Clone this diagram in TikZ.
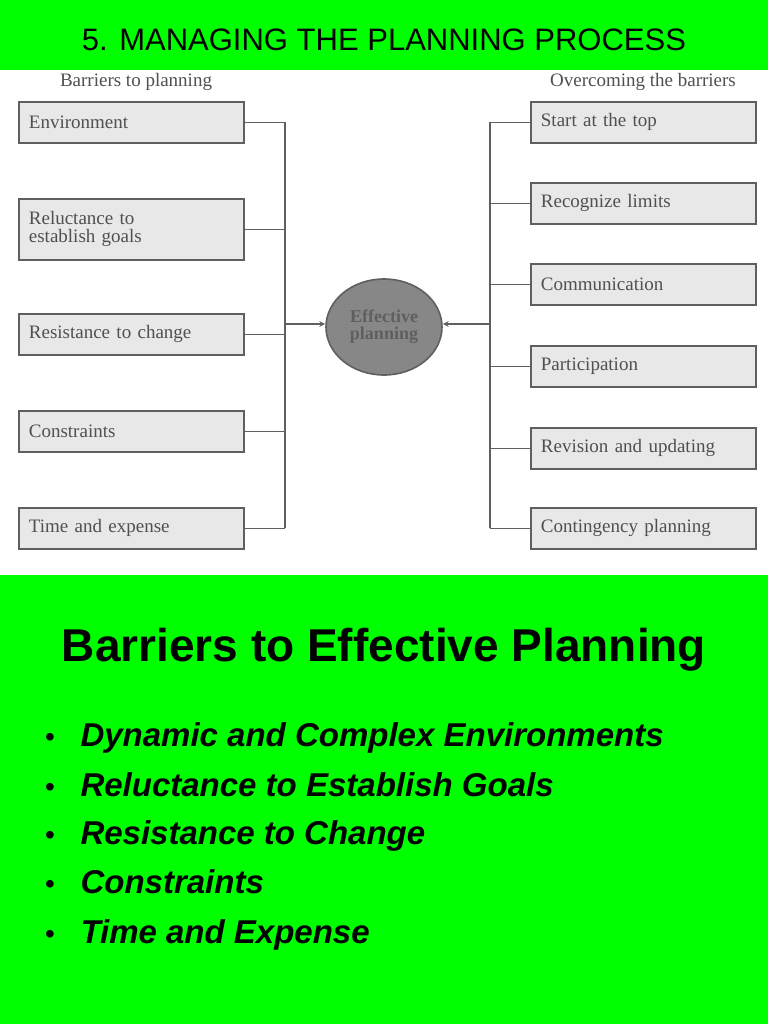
\documentclass[tikz,border=0pt]{standalone}
\usepackage{fontspec}
\usetikzlibrary{shapes.geometric}
\setmainfont{Liberation Serif}
\newfontfamily\arial{Liberation Sans}
\definecolor{grn}{RGB}{0,255,0}
\definecolor{bxfill}{RGB}{232,232,232}
\definecolor{bxline}{RGB}{95,95,95}
\definecolor{txt}{RGB}{80,80,80}
\definecolor{ellfill}{RGB}{135,135,135}
\definecolor{elltxt}{RGB}{95,95,95}
\begin{document}
\begin{tikzpicture}[x=1pt,y=-1pt,
  bx/.style={draw=bxline,line width=1.8pt,fill=bxfill,minimum width=225pt,anchor=north west,align=left,text width=205pt,inner xsep=10pt,font=\fontsize{19}{18}\selectfont,text=txt},
  ln/.style={draw=bxline,line width=1.6pt},
  hd/.style={font=\fontsize{19}{19}\selectfont,text=txt},
  bul/.style={anchor=base west,font=\arial\bfseries\itshape\fontsize{33}{33}\selectfont}]
\useasboundingbox (0,0) rectangle (768,1024);
\fill[grn] (0,0) rectangle (768,70);
\fill[white] (0,70) rectangle (768,575);
\fill[grn] (0,575) rectangle (768,1024);
\node[font=\arial\fontsize{31}{31}\selectfont] (title) at (384,40) {5. MANAGING THE PLANNING PROCESS};
\node[hd] (hl) at (136,82) {Barriers to planning};
\node[hd] (hr) at (643,82) {Overcoming the barriers};
% left boxes
\node[bx,minimum height=41pt] (l1) at (18,101) {Environment};
\node[bx,minimum height=61pt] (l2) at (18,198) {Reluctance to\\establish goals};
\node[bx,minimum height=41pt] (l3) at (18,313) {Resistance to change};
\node[bx,minimum height=41pt] (l4) at (18,410) {Constraints};
\node[bx,minimum height=41pt] (l5) at (18,507) {Time and expense};
% right boxes
\node[bx,minimum height=41pt] (r1) at (530,101) {Start at the top};
\node[bx,minimum height=41pt] (r2) at (530,182) {Recognize limits};
\node[bx,minimum height=41pt] (r3) at (530,263) {Communication};
\node[bx,minimum height=41pt] (r4) at (530,345) {Participation};
\node[bx,minimum height=41pt] (r5) at (530,427) {Revision and updating};
\node[bx,minimum height=41pt] (r6) at (530,507) {Contingency planning};
% ellipse
\fill[gray!35] (386,340) ellipse (52 and 30);
\node[draw=bxline,line width=1.6pt,fill=ellfill,ellipse,minimum width=116pt,minimum height=96pt,inner sep=0pt,align=center,font=\bfseries\fontsize{18}{17}\selectfont,text=elltxt] (c) at (384,327) {Effective\\planning};
% connectors
\coordinate (jl) at (285,324);
\coordinate (jr) at (490,324);
\foreach \n in {l1,l2,l3,l4,l5} \draw[ln] (\n.east) -- (\n.east -| jl);
\draw[ln] (l1.east -| jl) -- (l5.east -| jl);
\draw[ln,-stealth] (jl) -- (jl -| c.west);
\foreach \n in {r1,r2,r3,r4,r5,r6} \draw[ln] (\n.west) -- (\n.west -| jr);
\draw[ln] (r1.west -| jr) -- (r6.west -| jr);
\draw[ln,-stealth] (jr) -- (jr -| c.east);
% bottom
\node[font=\arial\bfseries\fontsize{46}{46}\selectfont] (bt) at (384,650) {Barriers to Effective Planning};
\foreach \y/\t [count=\i] in {746/Dynamic and Complex Environments,796/Reluctance to Establish Goals,844/Resistance to Change,893/Constraints,943/Time and Expense}{
  \node[anchor=base,font=\arial\fontsize{28}{28}\selectfont] (d\i) at (50,\y) {\textbullet};
  \node[bul] (b\i) at (77,\y) {\t};
}
\end{tikzpicture}
\end{document}
